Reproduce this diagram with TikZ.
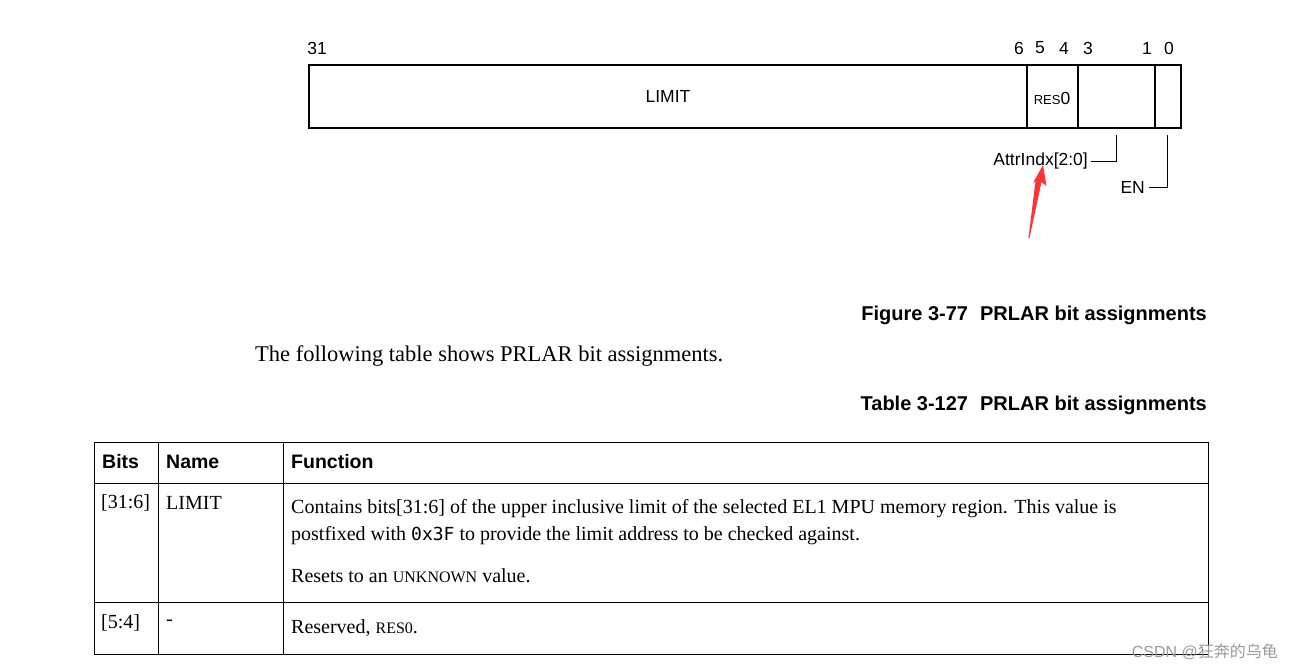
\documentclass[tikz,border=0pt]{standalone}
\usepackage{fontspec}
\setmainfont{Liberation Serif}
\setsansfont{Liberation Sans}
\setmonofont{DejaVu Sans Mono}
\newfontfamily\cjk{Noto Sans CJK SC}
\begin{document}
\begin{tikzpicture}[x=1pt,y=-1pt,
  reg/.style={draw,line width=1.3pt},
  lbl/.style={font=\sffamily\fontsize{17.5}{20}\selectfont,inner sep=0pt},
  captxt/.style={font=\sffamily\bfseries\fontsize{20}{23}\selectfont,inner sep=0pt,anchor=east},
  body/.style={font=\rmfamily\fontsize{20}{23}\selectfont,inner sep=0pt,anchor=west},
  hd/.style={font=\sffamily\bfseries\fontsize{19.5}{22}\selectfont,inner sep=0pt,anchor=west},
  tl/.style={line width=0.9pt}]
\useasboundingbox (0,0) rectangle (1293,670);
% register
\draw[reg] (309,65) rectangle (1181,128);
\draw[reg] (1027,65)--(1027,128) (1078,65)--(1078,128) (1155,65)--(1155,128);
\node[lbl] (b31) at (317,48) {31};
\node[lbl] (b6) at (1019,48) {6};
\node[lbl] (b5) at (1040,48) {5};
\node[lbl] (b4) at (1064,48) {4};
\node[lbl] (b3) at (1088,48) {3};
\node[lbl] (b1) at (1147,48) {1};
\node[lbl] (b0) at (1169,48) {0};
\node[lbl] (limit) at (668,96) {LIMIT};
\node[lbl] (res) at (1052,98) {{\fontsize{13}{15}\selectfont RES}0};
\node[lbl,anchor=east] (attr) at (1088,161) {AttrIndx[2:0]};
\node[lbl,anchor=east] (en) at (1145,187) {EN};
\draw[line width=0.9pt] (1116,135)--(1116,161)--(1091,161);
\draw[line width=0.9pt] (1167,135)--(1167,187)--(1149,187);
\fill[red!80!white] (1043,165)--(1046.5,186)--(1041.5,182)--(1029.5,238)--(1028.5,238)--(1035.5,181)--(1033,183)--cycle;
% captions
\node[captxt] (fig) at (1207,315) {Figure 3-77\hspace{0.6em}PRLAR bit assignments};
\node[body,font=\rmfamily\fontsize{22.5}{26}\selectfont] (intro) at (255,356) {The following table shows PRLAR bit assignments.};
\node[captxt] (tab) at (1207,405) {Table 3-127\hspace{0.6em}PRLAR bit assignments};
% table
\draw[tl] (94,442) rectangle (1208,654);
\draw[tl] (94,483)--(1208,483) (94,602)--(1208,602) (158,442)--(158,654) (283,442)--(283,654);
\node[hd] (h1) at (102,462) {Bits};
\node[hd] (h2) at (166,462) {Name};
\node[hd] (h3) at (291,462) {Function};
\node[body] (r1a) at (101,503) {[31:6]};
\node[body] (r1b) at (166,503) {LIMIT};
\node[body] (r1c) at (291,509) {Contains bits[31:6] of the upper inclusive limit of the selected EL1 MPU memory region. This value is};
\node[body] (r1d) at (291,536) {postfixed with {\ttfamily\fontsize{18}{20}\selectfont 0x3F} to provide the limit address to be checked against.};
\node[body] (r1e) at (291,576) {Resets to an {\fontsize{16}{18}\selectfont UNKNOWN} value.};
\node[body] (r2a) at (101,623) {[5:4]};
\node[body] (r2b) at (166,623) {-};
\node[body] (r2c) at (291,628) {Reserved, {\fontsize{16}{18}\selectfont RES0}.};
\node[font=\sffamily\fontsize{16}{18}\selectfont,text=gray!80,inner sep=0pt,anchor=east] (wm) at (1278,652) {CSDN @{\cjk 狂奔的乌龟}};
\end{tikzpicture}
\end{document}
